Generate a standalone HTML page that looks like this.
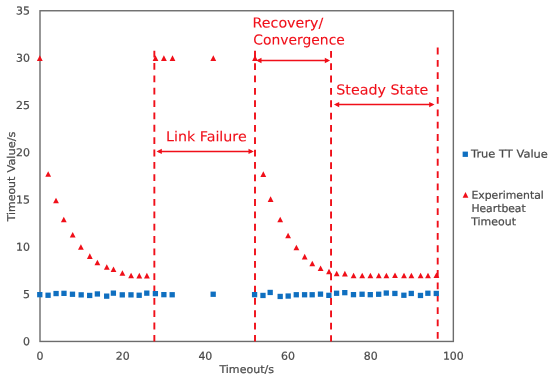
<!DOCTYPE html>
<html><head><meta charset="utf-8"><title>Chart</title>
<style>html,body{margin:0;padding:0;background:#fff}svg{display:block}text{font-family:"DejaVu Sans","Liberation Sans",sans-serif;text-rendering:geometricPrecision}</style></head><body>
<svg width="550" height="378" viewBox="0 0 550 378">
<rect width="550" height="378" fill="#fff"/>
<rect x="40.0" y="10.75" width="413.35" height="330.7" fill="none" stroke="#6c6c6c" stroke-width="1.4"/>
<line x1="154.35" y1="50.7" x2="154.35" y2="341.5" stroke="#f00f19" stroke-width="1.9" stroke-dasharray="6.8 5.56"/>
<line x1="255.0" y1="50.8" x2="255.0" y2="341.5" stroke="#f00f19" stroke-width="1.9" stroke-dasharray="6.8 5.56"/>
<line x1="331.05" y1="50.9" x2="331.05" y2="341.5" stroke="#f00f19" stroke-width="1.9" stroke-dasharray="6.8 5.56"/>
<line x1="437.7" y1="47.6" x2="437.7" y2="341.5" stroke="#f00f19" stroke-width="1.9" stroke-dasharray="6.8 5.56"/>
<line x1="158.5" y1="151.4" x2="251.8" y2="151.4" stroke="#f00f19" stroke-width="1.5"/><path d="M156.5 151.4L161.8 148.75L161.8 154.05Z" fill="#f00f19"/><path d="M253.8 151.4L248.5 148.75L248.5 154.05Z" fill="#f00f19"/>
<line x1="258.2" y1="60.5" x2="328.1" y2="60.5" stroke="#f00f19" stroke-width="1.5"/><path d="M256.2 60.5L261.5 57.85L261.5 63.15Z" fill="#f00f19"/><path d="M330.1 60.5L324.8 57.85L324.8 63.15Z" fill="#f00f19"/>
<line x1="335.9" y1="104.55" x2="432.5" y2="104.55" stroke="#f00f19" stroke-width="1.5"/><path d="M333.9 104.55L339.2 101.89999999999999L339.2 107.2Z" fill="#f00f19"/><path d="M434.5 104.55L429.2 101.89999999999999L429.2 107.2Z" fill="#f00f19"/>
<g fill="#0f6fc0"><rect x="37.13" y="292.00" width="5.3" height="5.3"/><rect x="45.43" y="292.60" width="5.3" height="5.3"/><rect x="53.43" y="290.90" width="5.3" height="5.3"/><rect x="61.33" y="290.70" width="5.3" height="5.3"/><rect x="69.83" y="291.60" width="5.3" height="5.3"/><rect x="78.53" y="292.20" width="5.3" height="5.3"/><rect x="87.03" y="292.80" width="5.3" height="5.3"/><rect x="94.73" y="291.30" width="5.3" height="5.3"/><rect x="104.03" y="293.50" width="5.3" height="5.3"/><rect x="110.73" y="290.50" width="5.3" height="5.3"/><rect x="119.63" y="292.20" width="5.3" height="5.3"/><rect x="128.33" y="292.20" width="5.3" height="5.3"/><rect x="136.53" y="292.60" width="5.3" height="5.3"/><rect x="144.13" y="290.50" width="5.3" height="5.3"/><rect x="152.73" y="291.00" width="5.3" height="5.3"/><rect x="161.23" y="292.00" width="5.3" height="5.3"/><rect x="169.53" y="292.10" width="5.3" height="5.3"/><rect x="210.53" y="291.60" width="5.3" height="5.3"/><rect x="251.93" y="292.00" width="5.3" height="5.3"/><rect x="260.33" y="292.80" width="5.3" height="5.3"/><rect x="267.53" y="289.80" width="5.3" height="5.3"/><rect x="277.53" y="293.80" width="5.3" height="5.3"/><rect x="285.53" y="293.40" width="5.3" height="5.3"/><rect x="293.63" y="292.10" width="5.3" height="5.3"/><rect x="301.93" y="292.10" width="5.3" height="5.3"/><rect x="309.53" y="292.10" width="5.3" height="5.3"/><rect x="317.83" y="291.50" width="5.3" height="5.3"/><rect x="326.23" y="292.70" width="5.3" height="5.3"/><rect x="333.93" y="290.60" width="5.3" height="5.3"/><rect x="342.13" y="290.00" width="5.3" height="5.3"/><rect x="350.83" y="292.00" width="5.3" height="5.3"/><rect x="359.43" y="291.60" width="5.3" height="5.3"/><rect x="367.63" y="292.00" width="5.3" height="5.3"/><rect x="376.03" y="291.60" width="5.3" height="5.3"/><rect x="383.63" y="290.40" width="5.3" height="5.3"/><rect x="392.23" y="290.80" width="5.3" height="5.3"/><rect x="401.23" y="292.60" width="5.3" height="5.3"/><rect x="408.63" y="290.80" width="5.3" height="5.3"/><rect x="417.83" y="292.80" width="5.3" height="5.3"/><rect x="425.23" y="290.60" width="5.3" height="5.3"/><rect x="433.63" y="290.80" width="5.3" height="5.3"/><rect x="462.63" y="151.60" width="5.3" height="5.3"/></g>
<g fill="#f00f19"><path d="M36.90 60.95L42.70 60.95L39.80 55.35Z"/><path d="M45.30 176.85L51.10 176.85L48.20 171.25Z"/><path d="M53.10 203.35L58.90 203.35L56.00 197.75Z"/><path d="M60.90 222.25L66.70 222.25L63.80 216.65Z"/><path d="M69.80 237.55L75.60 237.55L72.70 231.95Z"/><path d="M78.00 249.85L83.80 249.85L80.90 244.25Z"/><path d="M86.90 258.95L92.70 258.95L89.80 253.35Z"/><path d="M94.50 265.35L100.30 265.35L97.40 259.75Z"/><path d="M103.90 269.75L109.70 269.75L106.80 264.15Z"/><path d="M110.60 272.05L116.40 272.05L113.50 266.45Z"/><path d="M119.50 275.85L125.30 275.85L122.40 270.25Z"/><path d="M128.20 278.25L134.00 278.25L131.10 272.65Z"/><path d="M136.40 278.45L142.20 278.45L139.30 272.85Z"/><path d="M144.00 278.45L149.80 278.45L146.90 272.85Z"/><path d="M152.60 60.95L158.40 60.95L155.50 55.35Z"/><path d="M161.00 60.95L166.80 60.95L163.90 55.35Z"/><path d="M169.60 60.95L175.40 60.95L172.50 55.35Z"/><path d="M210.40 60.95L216.20 60.95L213.30 55.35Z"/><path d="M252.10 60.95L257.90 60.95L255.00 55.35Z"/><path d="M260.40 176.95L266.20 176.95L263.30 171.35Z"/><path d="M267.70 201.95L273.50 201.95L270.60 196.35Z"/><path d="M277.30 222.25L283.10 222.25L280.20 216.65Z"/><path d="M285.20 238.25L291.00 238.25L288.10 232.65Z"/><path d="M293.50 250.35L299.30 250.35L296.40 244.75Z"/><path d="M301.80 259.45L307.60 259.45L304.70 253.85Z"/><path d="M309.40 266.25L315.20 266.25L312.30 260.65Z"/><path d="M317.70 271.05L323.50 271.05L320.60 265.45Z"/><path d="M326.10 274.25L331.90 274.25L329.00 268.65Z"/><path d="M333.80 276.35L339.60 276.35L336.70 270.75Z"/><path d="M342.00 276.45L347.80 276.45L344.90 270.85Z"/><path d="M350.70 278.25L356.50 278.25L353.60 272.65Z"/><path d="M359.30 278.25L365.10 278.25L362.20 272.65Z"/><path d="M367.50 278.25L373.30 278.25L370.40 272.65Z"/><path d="M375.90 278.25L381.70 278.25L378.80 272.65Z"/><path d="M383.50 278.25L389.30 278.25L386.40 272.65Z"/><path d="M392.10 278.05L397.90 278.05L395.00 272.45Z"/><path d="M401.10 278.25L406.90 278.25L404.00 272.65Z"/><path d="M408.50 278.25L414.30 278.25L411.40 272.65Z"/><path d="M417.70 278.25L423.50 278.25L420.60 272.65Z"/><path d="M425.10 278.25L430.90 278.25L428.00 272.65Z"/><path d="M433.50 278.05L439.30 278.05L436.40 272.45Z"/><path d="M462.60 197.65L468.40 197.65L465.50 192.05Z"/></g>
<text x="252.60" y="27.60" transform="rotate(0.03 252.60 27.60)" font-size="13.8" fill="#f00f19" stroke="#f00f19" stroke-width="0.1" textLength="70.7" lengthAdjust="spacingAndGlyphs">Recovery/</text>
<text x="253.30" y="44.40" transform="rotate(0.03 253.30 44.40)" font-size="13.8" fill="#f00f19" stroke="#f00f19" stroke-width="0.1" textLength="91.5" lengthAdjust="spacingAndGlyphs">Convergence</text>
<text x="166.00" y="141.20" transform="rotate(0.03 166.00 141.20)" font-size="13.8" fill="#f00f19" stroke="#f00f19" stroke-width="0.1" textLength="80.7" lengthAdjust="spacingAndGlyphs">Link Failure</text>
<text x="336.30" y="94.50" transform="rotate(0.03 336.30 94.50)" font-size="13.8" fill="#f00f19" stroke="#f00f19" stroke-width="0.1" textLength="92.0" lengthAdjust="spacingAndGlyphs">Steady State</text>
<text x="471.10" y="157.60" transform="rotate(0.03 471.10 157.60)" font-size="10.7" fill="#4a4a4a" stroke="#4a4a4a" stroke-width="0.22" textLength="76.8" lengthAdjust="spacingAndGlyphs">True TT Value</text>
<text x="471.40" y="198.70" transform="rotate(0.03 471.40 198.70)" font-size="10.7" fill="#4a4a4a" stroke="#4a4a4a" stroke-width="0.22" textLength="72.5" lengthAdjust="spacingAndGlyphs">Experimental</text>
<text x="471.40" y="212.10" transform="rotate(0.03 471.40 212.10)" font-size="10.7" fill="#4a4a4a" stroke="#4a4a4a" stroke-width="0.22" textLength="54.3" lengthAdjust="spacingAndGlyphs">Heartbeat</text>
<text x="471.20" y="225.30" transform="rotate(0.03 471.20 225.30)" font-size="10.7" fill="#4a4a4a" stroke="#4a4a4a" stroke-width="0.22" textLength="44.8" lengthAdjust="spacingAndGlyphs">Timeout</text>
<text x="30.00" y="345.20" transform="rotate(0.03 30.00 345.20)" font-size="10.95" fill="#4a4a4a" stroke="#4a4a4a" stroke-width="0.22" text-anchor="end">0</text>
<text x="30.00" y="297.95" transform="rotate(0.03 30.00 297.95)" font-size="10.95" fill="#4a4a4a" stroke="#4a4a4a" stroke-width="0.22" text-anchor="end">5</text>
<text x="30.00" y="250.71" transform="rotate(0.03 30.00 250.71)" font-size="10.95" fill="#4a4a4a" stroke="#4a4a4a" stroke-width="0.22" text-anchor="end">10</text>
<text x="30.00" y="203.47" transform="rotate(0.03 30.00 203.47)" font-size="10.95" fill="#4a4a4a" stroke="#4a4a4a" stroke-width="0.22" text-anchor="end">15</text>
<text x="30.00" y="156.22" transform="rotate(0.03 30.00 156.22)" font-size="10.95" fill="#4a4a4a" stroke="#4a4a4a" stroke-width="0.22" text-anchor="end">20</text>
<text x="30.00" y="108.97" transform="rotate(0.03 30.00 108.97)" font-size="10.95" fill="#4a4a4a" stroke="#4a4a4a" stroke-width="0.22" text-anchor="end">25</text>
<text x="30.00" y="61.73" transform="rotate(0.03 30.00 61.73)" font-size="10.95" fill="#4a4a4a" stroke="#4a4a4a" stroke-width="0.22" text-anchor="end">30</text>
<text x="30.00" y="14.49" transform="rotate(0.03 30.00 14.49)" font-size="10.95" fill="#4a4a4a" stroke="#4a4a4a" stroke-width="0.22" text-anchor="end">35</text>
<text x="40.00" y="359.70" transform="rotate(0.03 40.00 359.70)" font-size="10.95" fill="#4a4a4a" stroke="#4a4a4a" stroke-width="0.22" text-anchor="middle">0</text>
<text x="122.67" y="359.70" transform="rotate(0.03 122.67 359.70)" font-size="10.95" fill="#4a4a4a" stroke="#4a4a4a" stroke-width="0.22" text-anchor="middle">20</text>
<text x="205.34" y="359.70" transform="rotate(0.03 205.34 359.70)" font-size="10.95" fill="#4a4a4a" stroke="#4a4a4a" stroke-width="0.22" text-anchor="middle">40</text>
<text x="288.01" y="359.70" transform="rotate(0.03 288.01 359.70)" font-size="10.95" fill="#4a4a4a" stroke="#4a4a4a" stroke-width="0.22" text-anchor="middle">60</text>
<text x="370.68" y="359.70" transform="rotate(0.03 370.68 359.70)" font-size="10.95" fill="#4a4a4a" stroke="#4a4a4a" stroke-width="0.22" text-anchor="middle">80</text>
<text x="453.35" y="359.70" transform="rotate(0.03 453.35 359.70)" font-size="10.95" fill="#4a4a4a" stroke="#4a4a4a" stroke-width="0.22" text-anchor="middle">100</text>
<text x="219.40" y="373.00" transform="rotate(0.03 219.40 373.00)" font-size="10.7" fill="#4a4a4a" stroke="#4a4a4a" stroke-width="0.22" textLength="54.6" lengthAdjust="spacingAndGlyphs">Timeout/s</text>
<text transform="translate(14.9 221.3) rotate(-90.03)" font-size="10.7" fill="#4a4a4a" stroke="#4a4a4a" stroke-width="0.22" textLength="44.6" lengthAdjust="spacingAndGlyphs">Timeout</text>
<text transform="translate(14.9 172.5) rotate(-90.03)" font-size="10.7" fill="#4a4a4a" stroke="#4a4a4a" stroke-width="0.22" textLength="40.9" lengthAdjust="spacingAndGlyphs">Value/s</text>
</svg></body></html>
